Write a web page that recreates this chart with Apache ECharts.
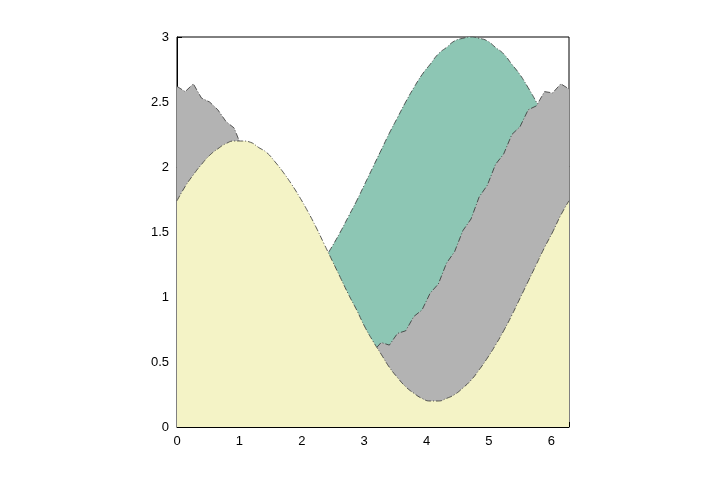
<!DOCTYPE html>
<html>
<head>
<meta charset="utf-8">
<script src="https://cdn.jsdelivr.net/npm/echarts@6/dist/echarts.min.js"></script>
<style>html,body{margin:0;padding:0;background:#fff}#chart{width:720px;height:480px}</style>
</head>
<body>
<div id="chart"></div>
<script>
// x grid: 49 samples over [0, 2*pi]
const STEPS = 48;
const xs = Array.from({length: STEPS + 1}, (_, i) => i * 2 * Math.PI / STEPS);

// upper teal boundary
const greenTop = [2,1.87,1.74,1.62,1.5,1.39,1.29,1.21,1.13,1.08,1.03,1.01,1,1.01,1.03,1.08,1.13,1.21,1.29,1.39,1.5,1.62,1.74,1.87,2,2.13,2.26,2.38,2.5,2.61,2.71,2.79,2.87,2.92,2.97,2.99,3,2.99,2.97,2.92,2.87,2.79,2.71,2.61,2.5,2.38,2.26,2.13,2];
// noisy gray boundary
const grayTop = [2.62,2.58,2.64,2.53,2.50,2.44,2.35,2.30,2.14,2.04,1.88,1.79,1.62,1.53,1.36,1.27,1.12,1.03,0.90,0.85,0.73,0.71,0.62,0.64,0.58,0.65,0.63,0.72,0.74,0.85,0.90,1.03,1.10,1.26,1.35,1.51,1.60,1.77,1.86,2.02,2.10,2.25,2.31,2.44,2.47,2.58,2.57,2.64,2.60];
// lower yellow boundary
const yellowTop = [1.74,1.85,1.94,2.02,2.09,2.14,2.18,2.20,2.20,2.19,2.15,2.11,2.04,1.96,1.87,1.77,1.66,1.54,1.41,1.28,1.15,1.02,0.90,0.77,0.66,0.56,0.46,0.38,0.31,0.26,0.22,0.20,0.20,0.22,0.25,0.30,0.36,0.44,0.53,0.63,0.74,0.86,0.99,1.12,1.25,1.38,1.50,1.63,1.74];

const xTicks = [0, 1, 2, 3, 4, 5, 6];
const DASHDOT = [6, 2, 1, 2];
const pairs = (ys) => ys.map((y, i) => [xs[i], y]);

function area(name, ys, fill, smooth, z) {
    return {
        name: name, type: 'line', data: pairs(ys), smooth: smooth, symbol: 'none', z: z,
        lineStyle: {color: '#333', width: 0.8, type: DASHDOT},
        areaStyle: {color: fill, opacity: 1, origin: 'start'}
    };
}

const axisBase = {
    type: 'value', axisLine: {show: true, lineStyle: {color: '#000'}},
    splitLine: {show: false}, axisTick: {inside: true, length: 5, lineStyle: {color: '#000'}}
};

const chart = echarts.init(document.getElementById('chart'));
chart.setOption({
    animation: false,
    grid: {left: 177, right: 151, top: 37, bottom: 53, show: true, borderColor: '#000', borderWidth: 1},
    xAxis: Object.assign({}, axisBase, {min: 0, max: 2 * Math.PI, interval: 1,
        axisLabel: {color: '#000', fontSize: 13, fontFamily: 'Liberation Sans',
            formatter: (v) => xTicks.includes(v) ? String(v) : ''}}),
    yAxis: Object.assign({}, axisBase, {min: 0, max: 3, interval: 0.5,
        axisLabel: {color: '#000', fontSize: 13, fontFamily: 'Liberation Sans'}}),
    series: [
        area('green', greenTop, '#8dc6b4', true, 2),
        area('gray', grayTop, '#b3b3b3', false, 3),
        area('yellow', yellowTop, '#f4f3c6', true, 4)
    ]
});
</script>
</body>
</html>
